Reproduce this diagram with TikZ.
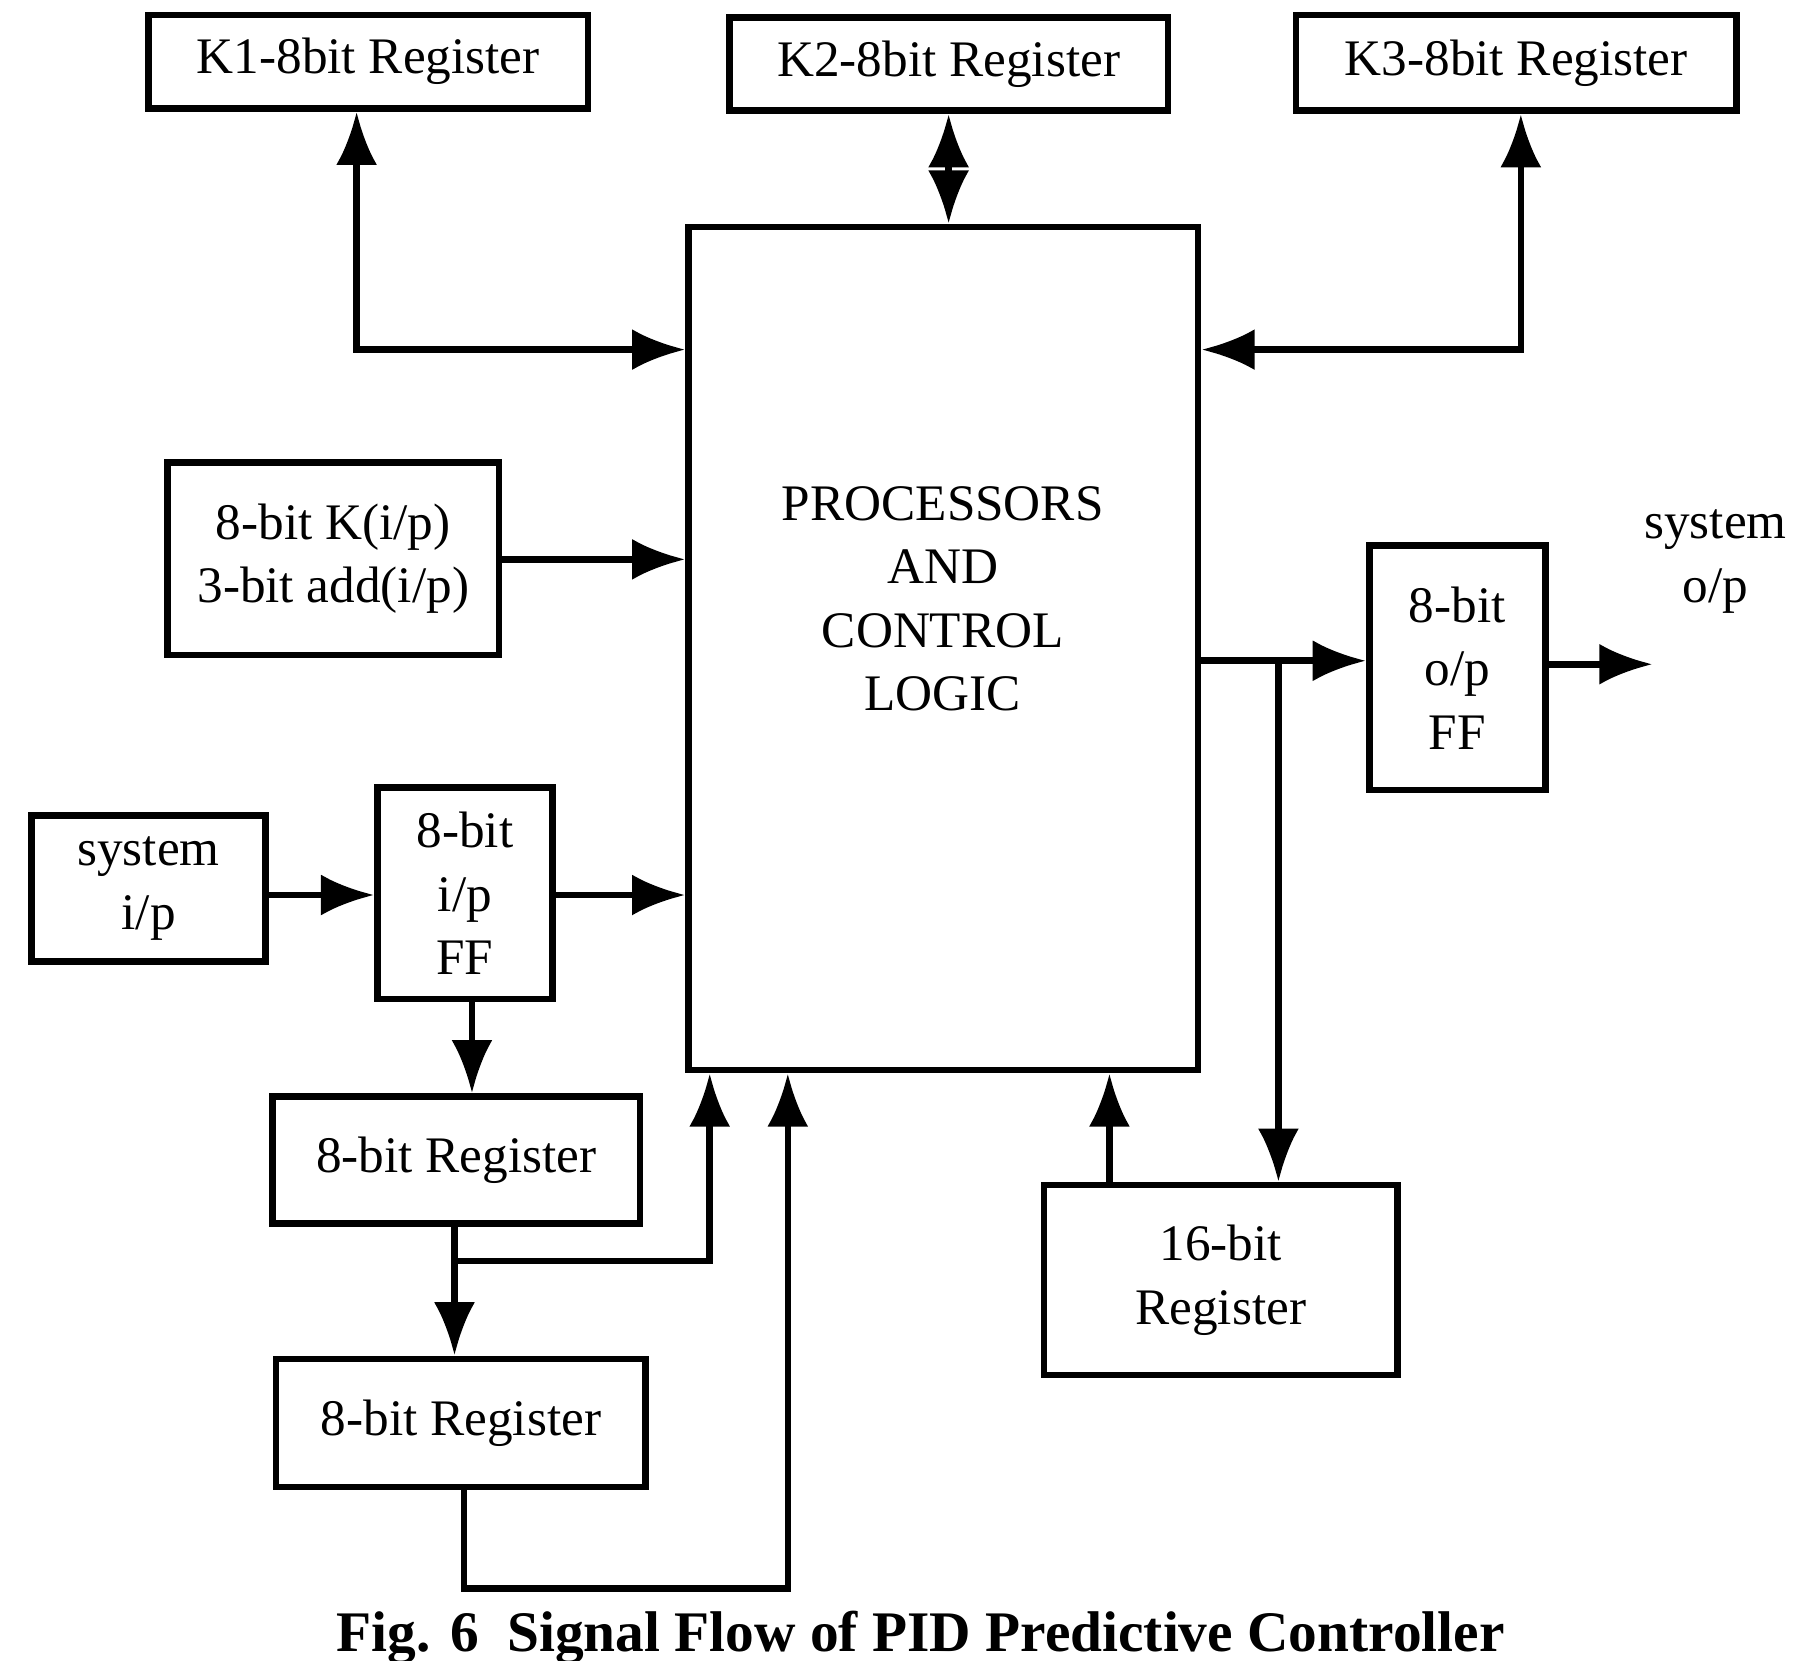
\documentclass[tikz,border=0pt]{standalone}
\usepackage{fontspec}
\setmainfont{Liberation Serif}
\usetikzlibrary{arrows.meta}
\begin{document}
\begin{tikzpicture}[x=0.01cm,y=-0.01cm,
  box/.style={draw,line width=1.6pt,inner sep=0pt,align=center,font=\fontsize{12.5}{15.5}\selectfont},
  flow/.style={line width=1.6pt,-{Latex[length=13pt,width=10pt]}},
  both/.style={line width=1.6pt,{Latex[length=13pt,width=10pt]}-{Latex[length=13pt,width=10pt]}}]
  \useasboundingbox (0,0) rectangle (1560,1425);

  % top registers
  \node[box,minimum width=3.77cm,minimum height=0.80cm] (kone) at (316,53) {K1-8bit Register};
  \node[box,minimum width=3.76cm,minimum height=0.80cm] (ktwo) at (814,55) {K2-8bit Register};
  \node[box,minimum width=3.78cm,minimum height=0.82cm] (kthree) at (1301,54) {K3-8bit Register};

  % processor
  \node[box,minimum width=4.37cm,minimum height=7.23cm] (proc) at (809.5,556.5) {};
  \node[font=\fontsize{12.5}{15.5}\selectfont,align=center] (proctext) at (809,514) {PROCESSORS\\AND\\CONTROL\\LOGIC};

  % inputs
  \node[box,minimum width=2.84cm,minimum height=1.65cm] (kin) at (286,479.5) {8-bit K(i/p)\\3-bit add(i/p)};
  \node[box,minimum width=2.01cm,minimum height=1.25cm] (sysin) at (127.5,762.5) {system\\i/p};
  \node[box,minimum width=1.50cm,minimum height=1.81cm] (ipff) at (399,766.5) {8-bit\\i/p\\FF};
  \node[box,minimum width=3.15cm,minimum height=1.09cm] (regone) at (391.5,995.5) {8-bit Register};
  \node[box,minimum width=3.17cm,minimum height=1.10cm] (regtwo) at (395.5,1221) {8-bit Register};
  \node[box,minimum width=3.03cm,minimum height=1.63cm] (regsix) at (1047.5,1098.5) {16-bit\\Register};

  % outputs
  \node[box,minimum width=1.51cm,minimum height=2.10cm] (opff) at (1250.5,573) {8-bit\\o/p\\FF};
  \node[font=\fontsize{12.5}{15.5}\selectfont,align=center] (sysout) at (1472,482) {system\\o/p};
  \coordinate (outend) at (1418,570);
  \coordinate (split) at (1097,567);

  % connectors
  \draw[both] (kone.south -| 306,0) |- (proc.west |- 0,300);
  \draw[both] (ktwo.south) -- (proc.north -| ktwo.south);
  \draw[both] (kthree.south -| 1305,0) |- (proc.east |- 0,300);
  \draw[flow] (kin.east |- 0,480) -- (proc.west |- 0,480);
  \draw[flow] (sysin.east |- 0,768) -- (ipff.west |- 0,768);
  \draw[flow] (ipff.east |- 0,768) -- (proc.west |- 0,768);
  \draw[flow] (ipff.south -| 405,0) -- (regone.north -| 405,0);
  \draw[flow] (regone.south -| 390,0) -- (regtwo.north -| 390,0);
  \draw[flow] (390,1082) -| (proc.south -| 609,0);
  \draw[flow] (regtwo.south -| 398,0) |- (676,1363) -- (proc.south -| 676,0);
  \draw[flow] (regsix.north -| 952,0) -- (proc.south -| 952,0);
  \draw[flow] (proc.east |- split) -- (opff.west |- split);
  \draw[flow] (split) -- (regsix.north -| split);
  \draw[flow] (opff.east |- outend) -- (outend);

  \node[font=\bfseries\fontsize{14}{17}\selectfont] (caption) at (790,1405) {Fig. 6\ \ Signal Flow of PID Predictive Controller};
\end{tikzpicture}
\end{document}
